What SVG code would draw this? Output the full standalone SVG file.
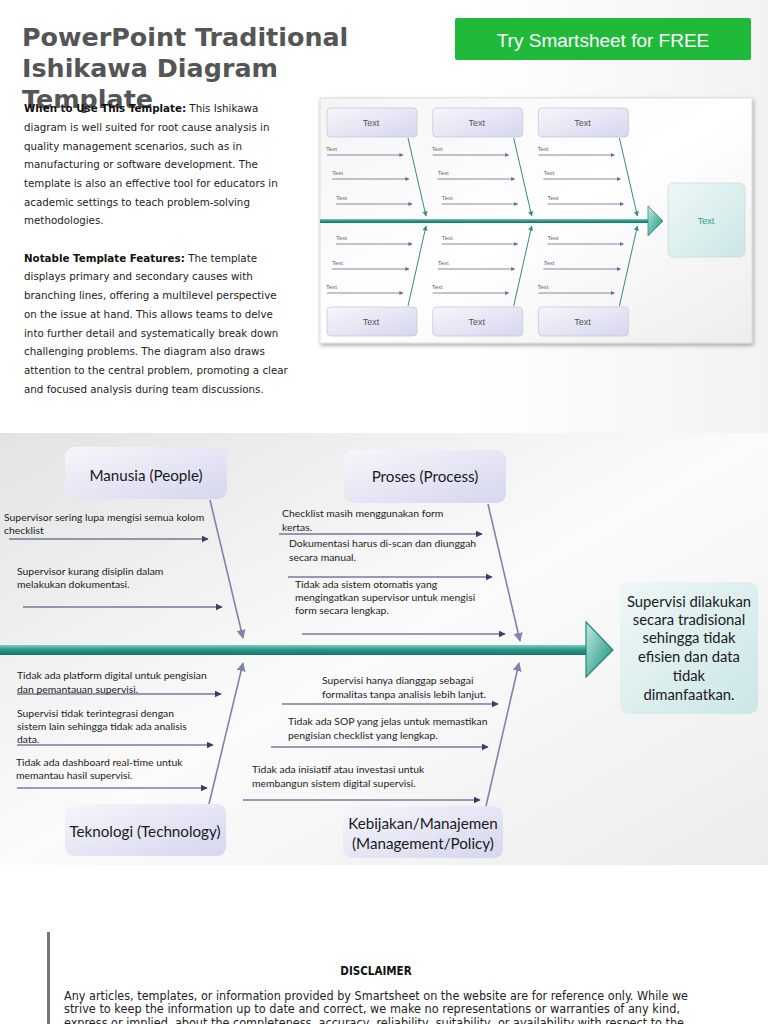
<svg xmlns="http://www.w3.org/2000/svg" width="768" height="1024" viewBox="0 0 768 1024">
<defs>
<style>
.title{font-family:"DejaVu Sans",sans-serif;font-weight:bold;font-size:25.4px;fill:#555}
.body{font-family:"DejaVu Sans",sans-serif;font-size:10.3px;fill:#222}
.bodyb{font-weight:bold;fill:#111}
.btn{font-family:"Liberation Sans",Arial,sans-serif;font-size:19px;fill:#fff}
.tbox{fill:url(#lav);stroke:#c8c8dc;stroke-width:0.8}
.tt{font-family:"Liberation Sans",Arial,sans-serif;font-size:9px;fill:#555;text-anchor:middle}
.ts{font-family:"Liberation Sans",Arial,sans-serif;font-size:6px;fill:#666}
.tl{stroke:#6a6a92;stroke-width:0.8;fill:none;marker-end:url(#sm)}
.td{stroke:#2f8f80;stroke-width:1;fill:none;marker-end:url(#tm)}
.nbox{fill:url(#lav)}
.nt{font-family:Lato,"Noto Sans",sans-serif;font-size:15.2px;fill:#1a1a1a;text-anchor:middle}
.st{font-family:Lato,"Noto Sans",sans-serif;font-size:10.4px;fill:#222}
.sub{stroke:#3c3c6c;stroke-width:1.2;fill:none;marker-end:url(#am)}
.bone{stroke:#8282aa;stroke-width:1.6;fill:none;marker-end:url(#bm)}
.rt{font-family:Lato,"Noto Sans",sans-serif;font-size:14.8px;fill:#1a1a1a;text-anchor:middle}
.dis{font-family:"DejaVu Sans Condensed","DejaVu Sans",sans-serif;font-size:11.5px;fill:#222}
</style>
<linearGradient id="lav" x1="0" y1="0" x2="1" y2="1">
<stop offset="0" stop-color="#f6f6fc"/>
<stop offset="1" stop-color="#d6d6ee"/>
</linearGradient>
<linearGradient id="teal" x1="0" y1="0" x2="1" y2="1">
<stop offset="0" stop-color="#eef7f7"/>
<stop offset="1" stop-color="#cbe6e6"/>
</linearGradient>
<linearGradient id="bg" x1="0" y1="0" x2="1" y2="1">
<stop offset="0" stop-color="#e3e3e3"/>
<stop offset="0.5" stop-color="#fbfbfb"/>
<stop offset="1" stop-color="#ececec"/>
</linearGradient>
<linearGradient id="thumbbg" x1="0" y1="0" x2="1" y2="1">
<stop offset="0" stop-color="#f4f4f4"/>
<stop offset="0.5" stop-color="#ffffff"/>
<stop offset="1" stop-color="#ededed"/>
</linearGradient>
<linearGradient id="spine" x1="0" y1="0" x2="0" y2="1">
<stop offset="0" stop-color="#7fcfc0"/>
<stop offset="0.45" stop-color="#2a9a8a"/>
<stop offset="1" stop-color="#137567"/>
</linearGradient>
<linearGradient id="head" x1="0" y1="0" x2="1" y2="1">
<stop offset="0" stop-color="#c4eae2"/>
<stop offset="0.6" stop-color="#55b3a3"/>
<stop offset="1" stop-color="#17806f"/>
</linearGradient>
<linearGradient id="white" x1="0" y1="0" x2="1" y2="0">
<stop offset="0.6" stop-color="#ffffff"/>
<stop offset="1" stop-color="#f2f2f2"/>
</linearGradient>
<marker id="am" viewBox="0 0 10 10" refX="9" refY="5" markerWidth="7" markerHeight="7" orient="auto" markerUnits="userSpaceOnUse">
<path d="M0,0 L10,5 L0,10 z" fill="#3c3c6c"/>
</marker>
<marker id="bm" viewBox="0 0 10 10" refX="9" refY="5" markerWidth="9" markerHeight="9" orient="auto" markerUnits="userSpaceOnUse">
<path d="M0,0 L10,5 L0,10 z" fill="#8282aa"/>
</marker>
<marker id="sm" viewBox="0 0 10 10" refX="9" refY="5" markerWidth="4" markerHeight="4" orient="auto" markerUnits="userSpaceOnUse">
<path d="M0,0 L10,5 L0,10 z" fill="#6a6a92"/>
</marker>
<marker id="tm" viewBox="0 0 10 10" refX="9" refY="5" markerWidth="5" markerHeight="5" orient="auto" markerUnits="userSpaceOnUse">
<path d="M0,0 L10,5 L0,10 z" fill="#2f8f80"/>
</marker>
<filter id="sh" x="-5%" y="-5%" width="110%" height="115%">
<feGaussianBlur in="SourceAlpha" stdDeviation="2"/>
<feOffset dx="1" dy="2"/>
<feComponentTransfer><feFuncA type="linear" slope="0.35"/></feComponentTransfer>
<feMerge><feMergeNode/><feMergeNode in="SourceGraphic"/></feMerge>
</filter>
</defs>

<rect x="0" y="0" width="768" height="433" fill="url(#white)"/>

<g id="header">
<text class="title" x="22" y="46">PowerPoint Traditional</text>
<text class="title" x="22" y="77">Ishikawa Diagram</text>
<text class="title" x="22" y="108">Template</text>
</g>

<g id="button">
<rect x="455" y="18" width="296" height="42" rx="2" fill="#1fba3a"/>
<text class="btn" x="603" y="47" text-anchor="middle">Try Smartsheet for FREE</text>
</g>

<g id="description">
<text class="body" x="24" y="112"><tspan class="bodyb">When to Use This Template:</tspan> This Ishikawa</text>
<text class="body" x="24" y="131">diagram is well suited for root cause analysis in</text>
<text class="body" x="24" y="150">quality management scenarios, such as in</text>
<text class="body" x="24" y="168">manufacturing or software development. The</text>
<text class="body" x="24" y="187">template is also an effective tool for educators in</text>
<text class="body" x="24" y="206">academic settings to teach problem-solving</text>
<text class="body" x="24" y="224">methodologies.</text>
<text class="body" x="24" y="262"><tspan class="bodyb">Notable Template Features:</tspan> The template</text>
<text class="body" x="24" y="280">displays primary and secondary causes with</text>
<text class="body" x="24" y="299">branching lines, offering a multilevel perspective</text>
<text class="body" x="24" y="318">on the issue at hand. This allows teams to delve</text>
<text class="body" x="24" y="337">into further detail and systematically break down</text>
<text class="body" x="24" y="355">challenging problems. The diagram also draws</text>
<text class="body" x="24" y="374">attention to the central problem, promoting a clear</text>
<text class="body" x="24" y="393">and focused analysis during team discussions.</text>
</g>

<g id="thumbnail">
<rect x="320" y="98" width="432" height="245" fill="url(#thumbbg)" stroke="#d8d8d8" stroke-width="0.8" filter="url(#sh)"/>
<rect x="320" y="219" width="330" height="4" fill="url(#spine)"/>
<polygon points="648,206 663,221 648,236" fill="url(#head)" stroke="#2a8f80" stroke-width="0.8"/>
<rect x="668" y="183" width="77" height="74" rx="5" fill="url(#teal)" stroke="#c8dede" stroke-width="0.8"/>
<text x="706" y="224" font-family="Liberation Sans, Arial, sans-serif" font-size="9" fill="#3a9a8a" text-anchor="middle">Text</text>
<g id="thumb-col1">
<rect class="tbox" x="327" y="108" width="90" height="29" rx="4"/>
<text class="tt" x="371" y="126">Text</text>
<rect class="tbox" x="327" y="307" width="90" height="29" rx="4"/>
<text class="tt" x="371" y="325">Text</text>
<line class="td" x1="408" y1="138" x2="426" y2="216"/>
<line class="td" x1="408" y1="306" x2="426" y2="226"/>
<line class="tl" x1="327" y1="155" x2="403" y2="155"/><text class="ts" x="326" y="151">Text</text>
<line class="tl" x1="332" y1="179" x2="409" y2="179"/><text class="ts" x="332" y="175">Text</text>
<line class="tl" x1="336" y1="204" x2="412" y2="204"/><text class="ts" x="336" y="200">Text</text>
<line class="tl" x1="336" y1="244" x2="412" y2="244"/><text class="ts" x="336" y="240">Text</text>
<line class="tl" x1="332" y1="269" x2="409" y2="269"/><text class="ts" x="332" y="265">Text</text>
<line class="tl" x1="327" y1="293" x2="403" y2="293"/><text class="ts" x="326" y="289">Text</text>
</g>
<g id="thumb-col2" transform="translate(105.7,0)">
<rect class="tbox" x="327" y="108" width="90" height="29" rx="4"/>
<text class="tt" x="371" y="126">Text</text>
<rect class="tbox" x="327" y="307" width="90" height="29" rx="4"/>
<text class="tt" x="371" y="325">Text</text>
<line class="td" x1="408" y1="138" x2="426" y2="216"/>
<line class="td" x1="408" y1="306" x2="426" y2="226"/>
<line class="tl" x1="327" y1="155" x2="403" y2="155"/><text class="ts" x="326" y="151">Text</text>
<line class="tl" x1="332" y1="179" x2="409" y2="179"/><text class="ts" x="332" y="175">Text</text>
<line class="tl" x1="336" y1="204" x2="412" y2="204"/><text class="ts" x="336" y="200">Text</text>
<line class="tl" x1="336" y1="244" x2="412" y2="244"/><text class="ts" x="336" y="240">Text</text>
<line class="tl" x1="332" y1="269" x2="409" y2="269"/><text class="ts" x="332" y="265">Text</text>
<line class="tl" x1="327" y1="293" x2="403" y2="293"/><text class="ts" x="326" y="289">Text</text>
</g>
<g id="thumb-col3" transform="translate(211.4,0)">
<rect class="tbox" x="327" y="108" width="90" height="29" rx="4"/>
<text class="tt" x="371" y="126">Text</text>
<rect class="tbox" x="327" y="307" width="90" height="29" rx="4"/>
<text class="tt" x="371" y="325">Text</text>
<line class="td" x1="408" y1="138" x2="426" y2="216"/>
<line class="td" x1="408" y1="306" x2="426" y2="226"/>
<line class="tl" x1="327" y1="155" x2="403" y2="155"/><text class="ts" x="326" y="151">Text</text>
<line class="tl" x1="332" y1="179" x2="409" y2="179"/><text class="ts" x="332" y="175">Text</text>
<line class="tl" x1="336" y1="204" x2="412" y2="204"/><text class="ts" x="336" y="200">Text</text>
<line class="tl" x1="336" y1="244" x2="412" y2="244"/><text class="ts" x="336" y="240">Text</text>
<line class="tl" x1="332" y1="269" x2="409" y2="269"/><text class="ts" x="332" y="265">Text</text>
<line class="tl" x1="327" y1="293" x2="403" y2="293"/><text class="ts" x="326" y="289">Text</text>
</g>
</g>

<rect x="0" y="433" width="768" height="432" fill="url(#bg)"/>
<rect x="0" y="865" width="768" height="159" fill="#ffffff"/>

<g id="connectors">
<rect x="0" y="645" width="592" height="10" fill="url(#spine)"/>
<polygon points="586,622 613,650 586,677" fill="url(#head)" stroke="#1f8a7a" stroke-width="1.2"/>
<line class="bone" x1="210" y1="500" x2="243" y2="638"/>
<line class="bone" x1="488" y1="504" x2="520" y2="641"/>
<line class="bone" x1="209" y1="804" x2="243" y2="663"/>
<line class="bone" x1="486" y1="806" x2="519" y2="663"/>
<line class="sub" x1="9" y1="539" x2="208" y2="539"/>
<line class="sub" x1="23" y1="607" x2="222" y2="607"/>
<line class="sub" x1="279" y1="534" x2="482" y2="534"/>
<line class="sub" x1="288" y1="577" x2="492" y2="577"/>
<line class="sub" x1="302" y1="634" x2="505" y2="634"/>
<line class="sub" x1="17" y1="694" x2="221" y2="694"/>
<line class="sub" x1="17" y1="745" x2="213" y2="745"/>
<line class="sub" x1="17" y1="788" x2="207" y2="788"/>
<line class="sub" x1="282" y1="704" x2="498" y2="704"/>
<line class="sub" x1="271" y1="747" x2="488" y2="747"/>
<line class="sub" x1="243" y1="800" x2="480" y2="800"/>
</g>

<g id="node-manusia">
<rect class="nbox" x="65" y="447" width="162" height="52" rx="9"/>
<text class="nt" x="146" y="481">Manusia (People)</text>
<text class="st" x="4" y="521">Supervisor sering lupa mengisi semua kolom</text>
<text class="st" x="4" y="534">checklist</text>
<text class="st" x="17" y="575">Supervisor kurang disiplin dalam</text>
<text class="st" x="17" y="588">melakukan dokumentasi.</text>
</g>

<g id="node-proses">
<rect class="nbox" x="344" y="450" width="162" height="53" rx="9"/>
<text class="nt" x="425" y="482">Proses (Process)</text>
<text class="st" x="282" y="517">Checklist masih menggunakan form</text>
<text class="st" x="282" y="531">kertas.</text>
<text class="st" x="289" y="547">Dokumentasi harus di-scan dan diunggah</text>
<text class="st" x="289" y="561">secara manual.</text>
<text class="st" x="295" y="588">Tidak ada sistem otomatis yang</text>
<text class="st" x="295" y="601">mengingatkan supervisor untuk mengisi</text>
<text class="st" x="295" y="614">form secara lengkap.</text>
</g>

<g id="node-teknologi">
<rect class="nbox" x="65" y="804" width="161" height="52" rx="9"/>
<text class="nt" x="145" y="837">Teknologi (Technology)</text>
<text class="st" x="17" y="679">Tidak ada platform digital untuk pengisian</text>
<text class="st" x="17" y="693">dan pemantauan supervisi.</text>
<text class="st" x="17" y="717">Supervisi tidak terintegrasi dengan</text>
<text class="st" x="17" y="730">sistem lain sehingga tidak ada analisis</text>
<text class="st" x="17" y="743">data.</text>
<text class="st" x="16" y="766">Tidak ada dashboard real-time untuk</text>
<text class="st" x="16" y="779">memantau hasil supervisi.</text>
</g>

<g id="node-kebijakan">
<rect class="nbox" x="343" y="806" width="160" height="52" rx="9"/>
<text class="nt" x="423" y="829">Kebijakan/Manajemen</text>
<text class="nt" x="423" y="849">(Management/Policy)</text>
<text class="st" x="322" y="684">Supervisi hanya dianggap sebagai</text>
<text class="st" x="322" y="698">formalitas tanpa analisis lebih lanjut.</text>
<text class="st" x="288" y="725">Tidak ada SOP yang jelas untuk memastikan</text>
<text class="st" x="288" y="739">pengisian checklist yang lengkap.</text>
<text class="st" x="252" y="773">Tidak ada inisiatif atau investasi untuk</text>
<text class="st" x="252" y="787">membangun sistem digital supervisi.</text>
</g>

<g id="node-result">
<rect x="620" y="582" width="138" height="132" rx="9" fill="url(#teal)"/>
<text class="rt" x="689" y="607">Supervisi dilakukan</text>
<text class="rt" x="689" y="625">secara tradisional</text>
<text class="rt" x="689" y="643">sehingga tidak</text>
<text class="rt" x="689" y="662">efisien dan data</text>
<text class="rt" x="689" y="681">tidak</text>
<text class="rt" x="689" y="700">dimanfaatkan.</text>
</g>

<g id="disclaimer">
<rect x="47" y="932" width="3" height="92" fill="#777"/>
<text x="376" y="975" font-family="DejaVu Sans Condensed, DejaVu Sans, sans-serif" font-weight="bold" font-size="11.5" fill="#111" text-anchor="middle">DISCLAIMER</text>
<text class="dis" x="64" y="1000" textLength="624" lengthAdjust="spacingAndGlyphs">Any articles, templates, or information provided by Smartsheet on the website are for reference only. While we</text>
<text class="dis" x="64" y="1013" textLength="616" lengthAdjust="spacingAndGlyphs">strive to keep the information up to date and correct, we make no representations or warranties of any kind,</text>
<text class="dis" x="64" y="1027" textLength="620" lengthAdjust="spacingAndGlyphs">express or implied, about the completeness, accuracy, reliability, suitability, or availability with respect to the</text>
</g>
</svg>
